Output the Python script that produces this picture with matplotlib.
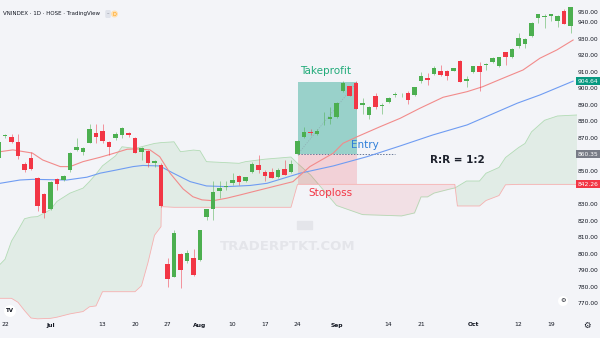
import numpy as np
import matplotlib
matplotlib.use('Agg')
import matplotlib.pyplot as plt
from matplotlib.patches import Rectangle

# trading-day index (0 = Jun 22)
day = list(range(-1, 88))
opens = [858, 871.5, 871, 868, 854.5, 858.5, 846, 836.5, 827.5, 845.5,
         845, 851, 863, 862, 867.5, 873.5, 874.5, 868, 870, 872,
         873.5, 870.5, 862, 862.5, 855, 854, 794, 786.5, 800, 796,
         798, 796.5, 822.5, 827.5, 838.5, 840.5, 843, 847.5, 844, 849.5,
         854, 849.5, 849.5, 847, 851.5, 850, 860.5, 871, 874, 872.5,
         878.5, 882, 883, 898.5, 901.5, 903.5, 890.5, 884, 895.5, 889.5,
         892, 896.5, 896, 897.5, 896, 904.5, 906.5, 909, 911, 911,
         911, 917, 904.5, 910, 914, 914.5, 916, 913.5, 922, 919.5,
         926, 927, 932, 943, 943.5, 944, 941, 947, 938]
highs = [870, 873, 873, 873, 856, 862, 846.5, 837, 844, 846,
         848, 862, 870, 865, 878.5, 878.5, 878.5, 868.5, 874, 877,
         874, 871, 865, 863, 857, 855, 797.5, 814.5, 800.5, 802.5,
         803.5, 814.5, 827.5, 844, 844, 844, 849, 848, 847, 856,
         860, 851, 852, 852, 857, 857, 869, 877, 876, 875.5,
         886, 889, 892, 904.5, 902, 904.5, 894.5, 889.5, 897.5, 891.5,
         895, 898, 897.5, 898.5, 901, 910, 909.5, 914, 914.5, 911.5,
         912.5, 917.5, 908, 914, 916.5, 915.5, 919.5, 919.5, 922.5, 924.5,
         933.5, 930.5, 940.5, 945.5, 945.5, 945.5, 944.5, 948, 949.5]
lows = [856, 870, 867, 857.5, 850, 851, 826, 822, 827, 839,
        844.5, 850, 862.5, 860, 867.5, 867.5, 867, 860, 869, 870.5,
        871, 861, 857, 853, 852.5, 828.5, 780.5, 786, 779.5, 795,
        787, 796, 820.5, 821, 834, 839, 842, 842, 843.5, 849,
        849, 844, 846, 846, 848, 849, 860, 870.5, 872, 872,
        878, 879, 882.5, 898, 895.5, 888, 885, 882, 888, 885,
        891.5, 895, 895, 891, 895.5, 903.5, 902.5, 908.5, 908, 905.5,
        910.5, 904, 901, 909.5, 898.5, 911.5, 915.5, 913, 914.5, 918.5,
        924.5, 924.5, 931.5, 939.5, 936.5, 941, 937.5, 939, 934]
closes = [868, 872, 868, 859.5, 851, 851.5, 829, 825, 843.5, 842.5,
          847.5, 861, 865, 864.5, 876, 871, 868.5, 865, 872.5, 876.5,
          872, 861.5, 864.5, 855, 856.5, 829, 785, 813, 790.5, 800.5,
          787.5, 814.5, 827.5, 837.5, 840, 841.5, 845, 843.5, 846.5, 854.5,
          851, 847.5, 846, 851, 848, 854.5, 868.5, 874, 873.5, 874.5,
          879, 883, 891.5, 903.5, 895.5, 888, 891.5, 889, 889, 890,
          894.5, 897, 896.5, 893.5, 901, 908, 905.5, 912.5, 908.5, 908,
          912.5, 904, 906, 914, 910, 915, 918.5, 919.5, 919, 924,
          931, 930, 940, 945, 944, 945, 944, 939, 949.3]

# moving averages
ma_red_x = [-0.77, 1.2, 4.2, 5.8, 8.5, 10, 12, 14.6, 16.2, 18.8, 20.3, 22.3, 23.8,
            25.4, 27.4, 28.9, 30.3, 32, 34.1, 36.2, 37.7, 44.3, 46.9, 50.5, 52,
            54.2, 57.7, 60.8, 63.8, 67.4, 71.1, 73.5, 76.6, 79.7, 82.3, 84.9, 87.4]
ma_red_y = [862, 863.1, 861.2, 857, 853, 853, 856, 858.6, 860.4, 863.5, 863.7, 863.1, 859,
            849, 839.5, 834.8, 832.9, 832.4, 833.9, 835.9, 837.4, 843.9, 853, 861.1, 867.1,
            871.1, 877.1, 882.2, 888.2, 894.9, 898.3, 901.3, 906.4, 911.4, 918.5, 923.5, 929.5]
ma_blue_x = [-0.77, 2.3, 4.3, 9.5, 12.6, 14.6, 17.2, 19.7, 21.2, 23.8, 25.8, 28.5, 31,
             34.1, 37.7, 40.3, 45.4, 50.5, 55.7, 60.8, 65.8, 71.1, 78.8, 82.3, 87.4]
ma_blue_y = [842.9, 844.9, 845.3, 844.9, 846.6, 849, 851, 853, 853.7, 853.4, 849.2, 843.9, 841.3,
             840.9, 841.6, 842.9, 849, 853.4, 859, 865.5, 872.1, 878.2, 891.3, 896.3, 904.64]

# ichimoku cloud
cloud_x = [-1, 0, 1, 2, 3, 4, 5, 7, 8, 10, 12, 13, 14, 15, 17, 18, 20, 21, 22, 23, 24, 24.05,
           26, 27, 29, 30, 31, 36, 37, 40, 44, 45, 47, 51, 55, 61, 63, 64, 65, 66, 68.5, 69.2,
           69.6, 71, 73, 74, 76, 77, 79, 80, 81, 83, 85, 88]
span_a = [793, 797, 808, 814.5, 821.5, 822.5, 822.8, 827, 832, 837, 840, 844, 848.5, 853.5,
          859.5, 865, 864, 865, 866, 867, 867.5, 867.5, 868, 862, 863, 862.6, 856, 855, 856,
          857.5, 858.8, 855, 848, 829.5, 824, 823.2, 825, 834.7, 834.7, 837, 839.5, 840.1,
          841, 844.3, 844.3, 849, 852.5, 858.5, 864.5, 867, 874, 881, 883.6, 884.2]
span_b = [773.4, 773.4, 773.4, 771, 766, 761.5, 761, 761.3, 762, 764, 765.4, 768.3, 768.8,
          777.4, 777.4, 777.4, 777.4, 781, 795, 811.5, 816.7, 828.8, 828.4, 828.4, 828.4,
          828.4, 828.4, 828.4, 828.4, 828.4, 828.4, 842.26, 842.26, 842.26, 842.26, 842.26,
          842.26, 842.26, 842.26, 842.26, 842.26, 842.26, 829.2, 829.2, 829.2, 832.5, 835.5,
          842, 842.26, 842.26, 842.26, 842.26, 842.26, 842.26]

# long position tool
entry = 860.35
stop = 842.26
target = 904.3
pos_start, pos_end = 45, 54.2

tick_days = [0, 7, 15, 20, 25, 30, 35, 40, 45, 51, 59, 64, 72, 79, 84]
tick_text = ['22', 'Jul', '13', '20', '27', 'Aug', '10', '17', '24', 'Sep', '14', '21', 'Oct', '12', '19']
price_ticks = [770, 780, 790, 800, 810, 820, 830, 850, 870, 880, 890, 900, 910, 920, 930, 940]

bg = '#f3f4f8'
up = '#4caf50'
down = '#f23645'

W, H = 600, 338
fig = plt.figure(figsize=(6, 3.38), dpi=100, facecolor=bg)
ax = fig.add_axes([0, 1 - 320 / H, 577 / W, 320 / H])
ax.set_facecolor(bg)
ax.set_xlim(-0.77, 88.0)
ax.set_ylim(760.3, 953.68)
for s in ax.spines.values():
    s.set_visible(False)
ax.set_xticks([])
ax.set_yticks([])

# watermark
ax.text(0.498, 0.23, 'TRADERPTKT.COM', transform=ax.transAxes, ha='center', va='center',
        fontsize=9.5, fontweight='bold', color='#e4e5ea', zorder=1)
ax.add_patch(Rectangle((0.515, 0.285), 0.025, 0.025, transform=ax.transAxes,
                       color='#e4e5ea', zorder=1))

cx = np.array(cloud_x)
sa = np.array(span_a)
sb = np.array(span_b)
ax.fill_between(cx, sa, sb, where=sa >= sb, interpolate=True, color='#4caf50', alpha=0.1,
                lw=0, zorder=2)
ax.fill_between(cx, sa, sb, where=sa < sb, interpolate=True, color='#f23645', alpha=0.1,
                lw=0, zorder=2)
ax.plot(cx, sa, color='#a5d6a7', lw=0.6, alpha=0.8, zorder=2)
ax.plot(cx, sb, color='#f7a9a9', lw=0.6, alpha=0.9, zorder=2)

# position boxes
ax.add_patch(Rectangle((pos_start, entry), pos_end - pos_start, target - entry,
                       color='#089981', alpha=0.38, lw=0, zorder=3))
ax.add_patch(Rectangle((pos_start, stop), pos_end - pos_start, entry - stop,
                       color='#f23645', alpha=0.18, lw=0, zorder=3))
ax.plot([pos_start, 60.0], [entry, entry], ls=(0, (1.5, 1.5)), color='#6a7a99', lw=0.7, zorder=4)
ax.plot([pos_start, pos_end], [entry, target], ls=(0, (1.5, 2)), color='#8a99a8', lw=0.5,
        alpha=0.7, zorder=4)

ax.plot(ma_blue_x, ma_blue_y, color='#6f9cf2', lw=0.8, zorder=4)
ax.plot(ma_red_x, ma_red_y, color='#f28b8b', lw=0.8, zorder=4)

# candles
o = np.array(opens)
c = np.array(closes)
col = np.where(c >= o, up, down)
ax.vlines(day, lows, highs, colors=col, lw=0.6, alpha=0.6, zorder=5)
body = np.maximum(np.abs(c - o), 0.5)
ax.bar(day, body, bottom=np.minimum(o, c), width=0.68, color=col, lw=0, zorder=6)

# labels on the drawing
ax.text(49.3, 911.0, 'Takeprofit', ha='center', va='center', fontsize=7.5, color='#22ab7a', zorder=7)
ax.text(55.3, 866.0, 'Entry', ha='center', va='center', fontsize=7.5, color='#2f7fd9', zorder=7)
ax.text(50.0, 837.0, 'Stoploss', ha='center', va='center', fontsize=7.5, color='#f23645', zorder=7)
ax.text(69.6, 857.0, 'R:R = 1:2', ha='center', va='center', fontsize=7.5, fontweight='bold',
        color='#1e222d', zorder=7)

# time axis
for d, t in zip(tick_days, tick_text):
    xf = ax.transData.transform((d, 0))[0] / W
    bold = t in ('Jul', 'Aug', 'Sep', 'Oct')
    fig.text(xf, 1 - 325 / H, t, ha='center', va='center', fontsize=4.3,
             fontweight='bold' if bold else 'normal', color='#131722')

# price axis
def ypix(v):
    return ax.transData.transform((0, v))[1] / H

for p in price_ticks:
    fig.text(588 / W, ypix(p), '%.2f' % p, ha='center', va='center', fontsize=4.3, color='#131722')
fig.text(588 / W, 1 - 13 / H, '950.00', ha='center', va='center', fontsize=4.3, color='#131722')
for v, fc in [(904.64, '#089981'), (860.35, '#787b86'), (842.26, '#f23645')]:
    fig.text(588 / W, ypix(v), '%.2f' % v, ha='center', va='center', fontsize=4.3, color='white',
             bbox=dict(boxstyle='square,pad=0.25', fc=fc, ec='none'))

# header
fig.text(3 / W, 1 - 14 / H, 'VNINDEX · 1D · HOSE · TradingView', ha='left', va='center',
         fontsize=4.0, color='#131722')
fig.text(108 / W, 1 - 14 / H, '–', ha='center', va='center', fontsize=3.6, color='#787b86',
         bbox=dict(boxstyle='round,pad=0.3', fc='#e0e3eb', ec='none'))
fig.text(114.5 / W, 1 - 14 / H, 'D', ha='center', va='center', fontsize=3.6, color='#ff9800',
         bbox=dict(boxstyle='circle,pad=0.2', fc='#ffe0b2', ec='none'))

# small icons
fig.text(10 / W, 1 - 311 / H, 'TV', ha='center', va='center', fontsize=4, fontweight='bold',
         color='#131722', bbox=dict(boxstyle='circle,pad=0.35', fc='white', ec='none'))
fig.text(563 / W, 1 - 301 / H, '⚙', ha='center', va='center', fontsize=4.5, color='#131722',
         bbox=dict(boxstyle='circle,pad=0.35', fc='white', ec='none'))
fig.text(587 / W, 1 - 325 / H, '⚙', ha='center', va='center', fontsize=6, color='#131722')

fig.savefig('out.png', dpi=100, facecolor=bg)
